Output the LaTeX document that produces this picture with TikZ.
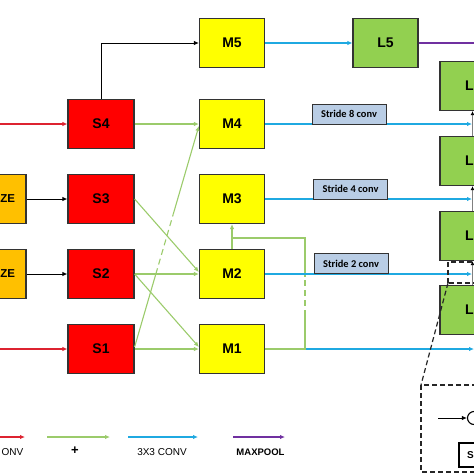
\documentclass[tikz,border=0pt]{standalone}
\usepackage{fontspec}
\setmainfont{Liberation Sans}
\newfontfamily\stridefont{Carlito}
\usetikzlibrary{arrows.meta}
\usetikzlibrary{calc}
\definecolor{sred}{HTML}{FF0000}
\definecolor{myellow}{HTML}{FFFF00}
\definecolor{lgreen}{HTML}{92D050}
\definecolor{rorange}{HTML}{FFC000}
\definecolor{stblue}{HTML}{B9CDE5}
\definecolor{convblue}{HTML}{1FA9E1}
\definecolor{plusgreen}{HTML}{9BCB6B}
\definecolor{convred}{HTML}{DD2330}
\definecolor{poolpurple}{HTML}{7030A0}

\begin{document}
\begin{tikzpicture}[x=1pt,y=-1pt,
            blk/.style={draw=black!80,line width=1.2pt,minimum width=66pt,minimum height=49pt,inner sep=0pt,font=\bfseries\fontsize{14}{14}\selectfont},
            stridebox/.style={draw=black!80,line width=1pt,fill=stblue,minimum width=74pt,minimum height=20pt,inner sep=0pt,font=\stridefont\bfseries\fontsize{10.4}{10.4}\selectfont},
            tip/.style={-{Latex[length=5pt,width=4.5pt]}},
            conv/.style={line width=1.1pt,draw=convred,tip},
            plus/.style={line width=1.1pt,draw=plusgreen,tip},
            plain/.style={line width=1.1pt,draw=plusgreen},
            three/.style={line width=1.1pt,draw=convblue,tip},
            pool/.style={line width=1.1pt,draw=poolpurple,tip},
            blkarrow/.style={line width=1pt,draw=black,tip},
            uparrow/.style={line width=1.6pt,draw=gray,-{Latex[length=4pt,width=4pt,fill=black,color=black]}},
            zoomline/.style={line width=1.2pt,draw=black!85,dash pattern=on 5pt off 3pt},
            legtext/.style={inner sep=0pt,font=\fontsize{10}{10}\selectfont}]
            \useasboundingbox (0,0) rectangle (474,474);
            \node[blk,fill=rorange,text width=44pt,align=right,font=\bfseries\fontsize{11.5}{11.5}\selectfont] (Z3) at (-7,199) {ZE};
            \node[blk,fill=rorange,text width=44pt,align=right,font=\bfseries\fontsize{11.5}{11.5}\selectfont] (Z2) at (-7,274) {ZE};
            \node[blk,fill=sred] (S4) at (101,124) {S4};
            \node[blk,fill=sred] (S3) at (101,199) {S3};
            \node[blk,fill=sred] (S2) at (101,274) {S2};
            \node[blk,fill=sred] (S1) at (101,349) {S1};
            \node[blk,fill=myellow,minimum width=65pt] (M5) at (232,43) {M5};
            \node[blk,fill=myellow,minimum width=65pt] (M4) at (232,124) {M4};
            \node[blk,fill=myellow,minimum width=65pt] (M3) at (232,199) {M3};
            \node[blk,fill=myellow,minimum width=65pt] (M2) at (232,274) {M2};
            \node[blk,fill=myellow,minimum width=65pt] (M1) at (232,349) {M1};
            \node[blk,fill=lgreen,minimum width=65pt] (L5) at (385.5,43) {L5};
            \node[blk,fill=lgreen,minimum width=65pt,text width=15pt,align=left] (L4) at (472.5,86) {L};
            \node[blk,fill=lgreen,minimum width=65pt,text width=15pt,align=left] (L3) at (472.5,161) {L};
            \node[blk,fill=lgreen,minimum width=65pt,text width=15pt,align=left] (L2) at (472.5,236) {L};
            \node[blk,fill=lgreen,minimum width=65pt,text width=15pt,align=left] (L1) at (472.5,310) {L};
            \coordinate (in4) at (0,124);
            \coordinate (in1) at (0,349);
            \coordinate (r4) at (472,124);
            \coordinate (r3) at (472,199);
            \coordinate (r2) at (472,274);
            \coordinate (b1) at (299,349);
            \coordinate (r1) at (474,349);
            \coordinate (pr) at (478,43);
            \coordinate (g1) at (305,349);
            \coordinate (g2) at (305,238);
            \coordinate (g3) at (232,238);
            \draw[conv] (in4) -- (S4);
            \draw[conv] (in1) -- (S1);
            \draw[blkarrow] (Z3) -- (S3);
            \draw[blkarrow] (Z2) -- (S2);
            \draw[blkarrow] (S4.north) |- (M5.west);
            \draw[plus] (S4) -- (M4);
            \draw[plus] (S3.east) -- ([yshift=2pt]M2.west);
            \draw[plus] (S2.east) -- (M2.west);
            \draw[plus] (S2.east) -- ([yshift=2pt]M1.west);
            \draw[plus] (S1.east) -- (M1.west);
            \draw[plain] ([yshift=2pt]S1.east) -- ($([yshift=2pt]S1.east)!0.33!([yshift=-2pt]M4.west)$);
            \draw[plain,dash pattern=on 6pt off 4pt] ($([yshift=2pt]S1.east)!0.33!([yshift=-2pt]M4.west)$) -- ($([yshift=2pt]S1.east)!0.6!([yshift=-2pt]M4.west)$);
            \draw[plus] ($([yshift=2pt]S1.east)!0.6!([yshift=-2pt]M4.west)$) -- ([yshift=-2pt]M4.west);
            \draw[plus] (M2.north) -- (M3.south);
            \draw[three] (b1) -- (r1);
            \draw[plain] (M1.east) -- (g1) -- ($(g1)!0.3!(g2)$);
            \draw[plain,dash pattern=on 6pt off 4pt] ($(g1)!0.3!(g2)$) -- ($(g1)!0.65!(g2)$);
            \draw[plain] ($(g1)!0.65!(g2)$) -- (g2) -- (g3);
            \draw[three] (M5) -- (L5);
            \draw[three] (M4.east) -- (r4);
            \draw[three] (M3.east) -- (r3);
            \draw[three] (M2.east) -- (r2);
            \draw[line width=1.1pt,draw=poolpurple] (L5.east) -- (pr);
            \draw[uparrow] (L3.north) -- (L4.south);
            \draw[uparrow] (L2.north) -- (L3.south);
            \draw[uparrow] (L1.north) -- (L2.south);
            \node[stridebox] (st8) at (349,114) {Stride 8 conv};
            \node[stridebox] (st4) at (350.5,189) {Stride 4 conv};
            \node[stridebox] (st2) at (351,263.5) {Stride 2 conv};
            \draw[zoomline] (448,283) rectangle (482,262);
            \coordinate (zs) at (448,283);
            \coordinate (zb) at (421,385);
            \draw[zoomline] (zs) -- (zb);
            \draw[zoomline] (zb) rectangle (490,472);
            \coordinate (ia) at (438,418);
            \node[draw,circle,line width=1.1pt,minimum size=13pt,inner sep=0pt] (ic) at (474,418) {};
            \draw[blkarrow] (ia) -- (ic);
            \node[draw,line width=1.1pt,minimum width=70pt,minimum height=24pt,text width=54pt,align=left,inner sep=0pt,font=\bfseries\fontsize{10}{10}\selectfont] (sb) at (494,455) {S};
            \coordinate (la1) at (0,437);
            \coordinate (lb1) at (25,437);
            \coordinate (la2) at (47,437);
            \coordinate (lb2) at (110,437);
            \coordinate (la3) at (128,437);
            \coordinate (lb3) at (198,437);
            \coordinate (la4) at (233,437);
            \coordinate (lb4) at (285,437);
            \draw[conv] (la1) -- (lb1);
            \draw[plus] (la2) -- (lb2);
            \draw[three] (la3) -- (lb3);
            \draw[pool] (la4) -- (lb4);
            \node[legtext,anchor=east] (t1) at (23.5,452) {ONV};
            \node[legtext,font=\bfseries\fontsize{13}{13}\selectfont] (t2) at (75,451) {+};
            \node[legtext] (t3) at (162,452) {3X3 CONV};
            \node[legtext,font=\bfseries\fontsize{9.5}{9.5}\selectfont] (t4) at (260.5,452) {MAXPOOL};
\end{tikzpicture}
\end{document}
